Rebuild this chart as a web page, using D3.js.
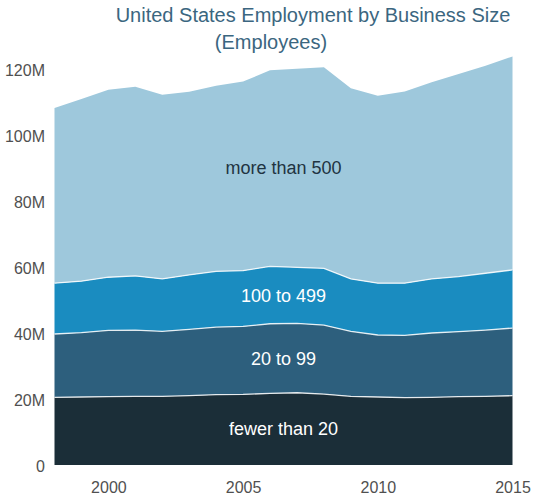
<!DOCTYPE html>
<html>
<head>
<meta charset="utf-8">
<script src="https://cdn.jsdelivr.net/npm/d3@7"></script>
<style>
  body { margin: 0; background: #fff; }
  svg { display: block; font-family: "Liberation Sans", Arial, sans-serif; }
</style>
</head>
<body>
<svg id="chart" width="536" height="497"></svg>
<script>
// employment by business size, millions of employees
const years = [1998, 1999, 2000, 2001, 2002, 2003, 2004, 2005, 2006, 2007, 2008, 2009, 2010, 2011, 2012, 2013, 2014, 2015];
const fewerThan20 = [20.5, 20.6, 20.7, 20.8, 20.8, 21.0, 21.3, 21.4, 21.7, 21.9, 21.5, 20.8, 20.6, 20.4, 20.5, 20.7, 20.8, 21.0];
const from20to99 = [19.2, 19.5, 20.1, 20.1, 19.7, 20.1, 20.5, 20.6, 21.1, 21.0, 20.9, 19.7, 18.8, 18.9, 19.5, 19.7, 20.1, 20.5];
const from100to499 = [15.4, 15.6, 16.1, 16.4, 15.9, 16.5, 16.9, 16.9, 17.4, 17.0, 17.2, 15.9, 15.7, 15.8, 16.4, 16.7, 17.2, 17.6];
const moreThan500 = [53.1, 55.2, 56.8, 57.3, 55.8, 55.5, 56.2, 57.3, 59.4, 60.2, 60.9, 57.8, 56.8, 58.1, 59.6, 61.4, 62.9, 64.7];

const seriesNames = ["fewer than 20", "20 to 99", "100 to 499", "more than 500"];
const seriesValues = [fewerThan20, from20to99, from100to499, moreThan500];
const yTicks = [0, 20, 40, 60, 80, 100, 120];
const xTicks = [2000, 2005, 2010, 2015];

const colors = ["#1b2e38", "#2d5f7d", "#1a8cc0", "#9ec8dc"];
const labelColors = ["#ffffff", "#ffffff", "#ffffff", "#1f3442"];

const rows = years.map((yr, i) => {
  const r = { year: yr };
  seriesNames.forEach((n, j) => r[n] = seriesValues[j][i] * 1e6);
  return r;
});

const svg = d3.select("#chart");

const x = d3.scaleLinear().domain([1998, 2015]).range([54.5, 512.5]);
const y = d3.scaleLinear().domain([0, 120e6]).range([465, 69]);

const stack = d3.stack().keys(seriesNames);
const layers = stack(rows);

const area = d3.area()
  .x(d => x(d.data.year))
  .y0(d => y(d[0]))
  .y1(d => y(d[1]));

svg.append("g")
  .selectAll("path")
  .data(layers)
  .join("path")
    .attr("d", area)
    .attr("fill", (d, i) => colors[i]);

// thin white lines between layers
const topLine = d3.line()
  .x(d => x(d.data.year))
  .y(d => y(d[1]));

svg.append("g")
  .selectAll("path")
  .data(layers.slice(0, 3))
  .join("path")
    .attr("d", topLine)
    .attr("fill", "none")
    .attr("stroke", "#ffffff")
    .attr("stroke-opacity", 0.85)
    .attr("stroke-width", 1.3);

// layer labels at the middle of the x range
const midYear = (1998 + 2015) / 2;
function valueAt(layer, yr, k) {
  const i = d3.bisectLeft(years, yr);
  const a = layer[i - 1], b = layer[i];
  const t = (yr - a.data.year) / (b.data.year - a.data.year);
  return a[k] + (b[k] - a[k]) * t;
}

svg.append("g")
  .selectAll("text")
  .data(layers)
  .join("text")
    .attr("x", x(midYear))
    .attr("y", d => y((valueAt(d, midYear, 0) + valueAt(d, midYear, 1)) / 2))
    .attr("dy", "0.35em")
    .attr("text-anchor", "middle")
    .attr("font-size", 18)
    .attr("fill", (d, i) => labelColors[i])
    .text(d => d.key);

// axes
const yAxis = svg.append("g")
  .attr("transform", "translate(45,1)")
  .call(d3.axisLeft(y)
    .tickValues(yTicks.map(v => v * 1e6))
    .tickSize(0)
    .tickPadding(0)
    .tickFormat(v => v === 0 ? "0" : (v / 1e6) + "M"));
yAxis.select(".domain").remove();
yAxis.selectAll("text")
  .attr("font-size", 16)
  .attr("font-family", "Liberation Sans, Arial, sans-serif")
  .attr("fill", "#505050");

const xAxis = svg.append("g")
  .attr("transform", "translate(0,482)")
  .call(d3.axisBottom(x)
    .tickValues(xTicks)
    .tickSize(0)
    .tickPadding(0)
    .tickFormat(d3.format("d")));
xAxis.select(".domain").remove();
xAxis.selectAll("text")
  .attr("font-size", 16)
  .attr("font-family", "Liberation Sans, Arial, sans-serif")
  .attr("fill", "#505050");

// title
const title = svg.append("g")
  .attr("fill", "#3b6680")
  .attr("font-size", 20)
  .attr("text-anchor", "middle");
title.append("text").attr("x", 313).attr("y", 22).text("United States Employment by Business Size");
title.append("text").attr("x", 271).attr("y", 49).text("(Employees)");
</script>
</body>
</html>
